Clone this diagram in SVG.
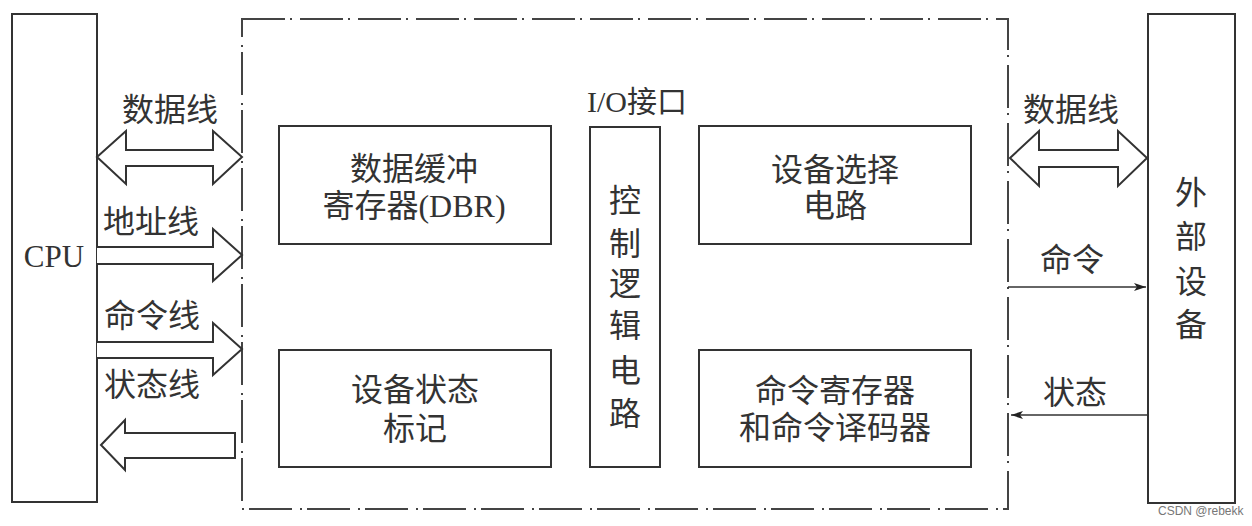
<svg xmlns="http://www.w3.org/2000/svg" width="1252" height="526" viewBox="0 0 1252 526">
<defs>
<style>
.box{fill:#fff;stroke:#333;stroke-width:2}
.frame{fill:none;stroke:#444;stroke-width:2;stroke-dasharray:43 5 2 8}
.hollow{fill:#fff;stroke:#333;stroke-width:2;stroke-linejoin:miter}
.ln{stroke:#333;stroke-width:1.6;fill:none}
.t{font-family:"Liberation Serif","Noto Sans CJK SC",serif;font-size:32px;fill:#333;text-anchor:middle}
.wm{font-family:"Liberation Sans",sans-serif;font-size:12px;fill:#777}
</style>
<marker id="ah" viewBox="0 0 12 8" refX="12" refY="4" markerWidth="12" markerHeight="8" markerUnits="userSpaceOnUse" orient="auto">
<path d="M0,0 L12,4 L0,8 L3,4 Z" fill="#222"/>
</marker>
</defs>
<rect width="1252" height="526" fill="#fff"/>
<g id="cpu">
<rect class="box" x="12" y="14" width="85" height="488"/>
<text class="t" x="54" y="267" style="font-size:31px">CPU</text>
</g>
<g id="io-interface">
<rect class="frame" x="242" y="19" width="766" height="490"/>
<text class="t" x="637" y="112" style="font-size:30px">I/O接口</text>
</g>
<g id="dbr">
<rect class="box" x="279" y="126" width="272" height="118"/>
<text class="t" x="414" y="180">数据缓冲</text>
<text class="t" x="414" y="217">寄存器(DBR)</text>
</g>
<g id="status-flag">
<rect class="box" x="279" y="350" width="272" height="117"/>
<text class="t" x="415" y="401">设备状态</text>
<text class="t" x="415" y="440">标记</text>
</g>
<g id="control">
<rect class="box" x="590" y="127" width="70" height="340"/>
<text class="t" x="625" y="212">控</text>
<text class="t" x="625" y="255">制</text>
<text class="t" x="625" y="295">逻</text>
<text class="t" x="625" y="337">辑</text>
<text class="t" x="625" y="382">电</text>
<text class="t" x="625" y="425">路</text>
</g>
<g id="dev-select">
<rect class="box" x="699" y="126" width="272" height="118"/>
<text class="t" x="835" y="181">设备选择</text>
<text class="t" x="835" y="217">电路</text>
</g>
<g id="cmd-reg">
<rect class="box" x="699" y="350" width="272" height="117"/>
<text class="t" x="835" y="402">命令寄存器</text>
<text class="t" x="835" y="439">和命令译码器</text>
</g>
<g id="external">
<rect class="box" x="1148" y="14" width="87" height="489"/>
<text class="t" x="1191" y="204">外</text>
<text class="t" x="1191" y="248">部</text>
<text class="t" x="1191" y="293">设</text>
<text class="t" x="1191" y="336">备</text>
</g>
<g id="connectors">
<path class="hollow" d="M97,157 L126,131 L126,150 L213,150 L213,131 L242,157 L213,184 L213,166 L126,166 L126,184 Z"/>
<path class="hollow" d="M97,247 L213,247 L213,229 L242,255 L213,281 L213,264 L97,264"/>
<path class="hollow" d="M97,342 L213,342 L213,323 L242,349 L213,375 L213,358 L97,358"/>
<path class="hollow" d="M101,445 L125,420 L125,433 L235,433 L235,458 L125,458 L125,470 Z"/>
<path class="hollow" d="M1010,158 L1039,131 L1039,150 L1118,150 L1118,131 L1147,158 L1118,186 L1118,167 L1039,167 L1039,186 Z"/>
<line class="ln" x1="1008" y1="287" x2="1146" y2="287" marker-end="url(#ah)"/>
<line class="ln" x1="1148" y1="415" x2="1011" y2="415" marker-end="url(#ah)"/>
</g>
<g id="labels">
<text class="t" x="170" y="121">数据线</text>
<text class="t" x="151" y="233">地址线</text>
<text class="t" x="152" y="327">命令线</text>
<text class="t" x="152" y="396">状态线</text>
<text class="t" x="1071" y="121">数据线</text>
<text class="t" x="1072" y="271">命令</text>
<text class="t" x="1075" y="404">状态</text>
</g>
<text class="wm" x="1158" y="515">CSDN @rebekk</text>
</svg>
